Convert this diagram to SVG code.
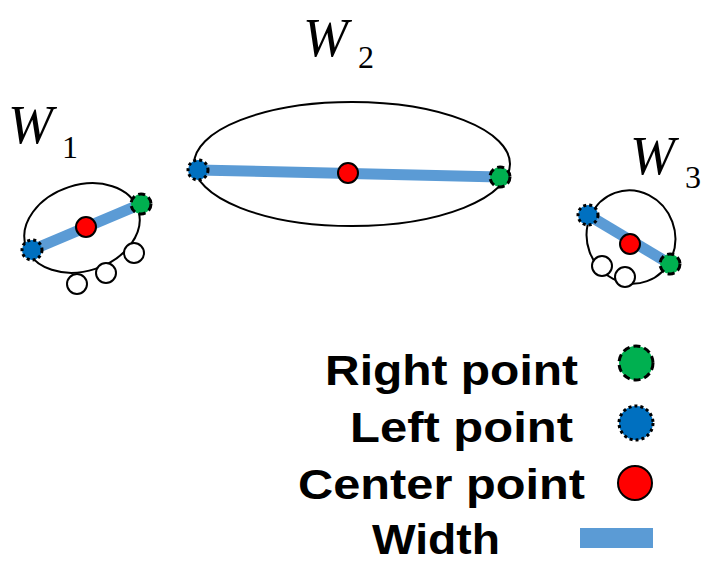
<svg xmlns="http://www.w3.org/2000/svg" width="711" height="562" viewBox="0 0 711 562">
<style>
.e{fill:none;stroke:#000;stroke-width:2}
.w{stroke:#5b9bd5;stroke-linecap:butt}
.g{fill:#00b050;stroke:#000;stroke-width:3;stroke-dasharray:7 4}
.b{fill:#0070c0;stroke:#000;stroke-width:3;stroke-dasharray:3 3}
.r{fill:#f00;stroke:#000;stroke-width:2}
.o{fill:#fff;stroke:#000;stroke-width:2}
.W{font-family:"Liberation Serif",serif;font-style:italic;font-size:54px}
.s{font-family:"Liberation Serif",serif;font-size:32px}
.L{font-family:"Liberation Sans",sans-serif;font-weight:bold;font-size:42px}
</style>
<rect width="711" height="562" fill="#fff"/>
<g id="w1">
<ellipse class="e" cx="82" cy="228" rx="59" ry="43" transform="rotate(-18 82 228)"/>
<line class="w" x1="32" y1="250" x2="141" y2="204" stroke-width="11"/>
<circle class="o" cx="134" cy="253" r="10"/><circle class="o" cx="106" cy="273" r="10"/><circle class="o" cx="77" cy="284" r="10"/>
<circle class="b" cx="32" cy="250" r="10"/><circle class="g" cx="141" cy="204" r="10"/><circle class="r" cx="86" cy="227" r="10"/>
<text class="W" x="8" y="143">W</text><text class="s" x="62" y="158">1</text>
</g>
<g id="w2">
<ellipse class="e" cx="352" cy="164" rx="158" ry="62"/>
<line class="w" x1="198" y1="170" x2="500" y2="177" stroke-width="11"/>
<circle class="b" cx="198" cy="170" r="10"/><circle class="g" cx="500" cy="177" r="10"/><circle class="r" cx="348" cy="173" r="10"/>
<text class="W" x="303" y="56">W</text><text class="s" x="358" y="68">2</text>
</g>
<g id="w3">
<ellipse class="e" cx="631" cy="237" rx="44" ry="47" transform="rotate(-20 631 237)"/>
<line class="w" x1="588" y1="215" x2="670" y2="264" stroke-width="11"/>
<circle class="o" cx="602" cy="266" r="10"/><circle class="o" cx="625" cy="277" r="10"/>
<circle class="b" cx="588" cy="215" r="10"/><circle class="g" cx="670" cy="264" r="10"/><circle class="r" cx="630" cy="244" r="10"/>
<text class="W" x="630" y="174">W</text><text class="s" x="685" y="188">3</text>
</g>
<g id="legend">
<text class="L" x="325" y="385" textLength="253" lengthAdjust="spacingAndGlyphs">Right point</text>
<text class="L" x="350" y="442" textLength="223" lengthAdjust="spacingAndGlyphs">Left point</text>
<text class="L" x="298" y="499" textLength="287" lengthAdjust="spacingAndGlyphs">Center point</text>
<text class="L" x="372" y="554" textLength="128" lengthAdjust="spacingAndGlyphs">Width</text>
<circle class="g" cx="636" cy="363" r="17"/>
<circle class="b" cx="636" cy="423" r="17"/>
<circle class="r" cx="635" cy="483" r="17"/>
<rect x="580" y="528" width="73" height="20" fill="#5b9bd5"/>
</g>
</svg>
